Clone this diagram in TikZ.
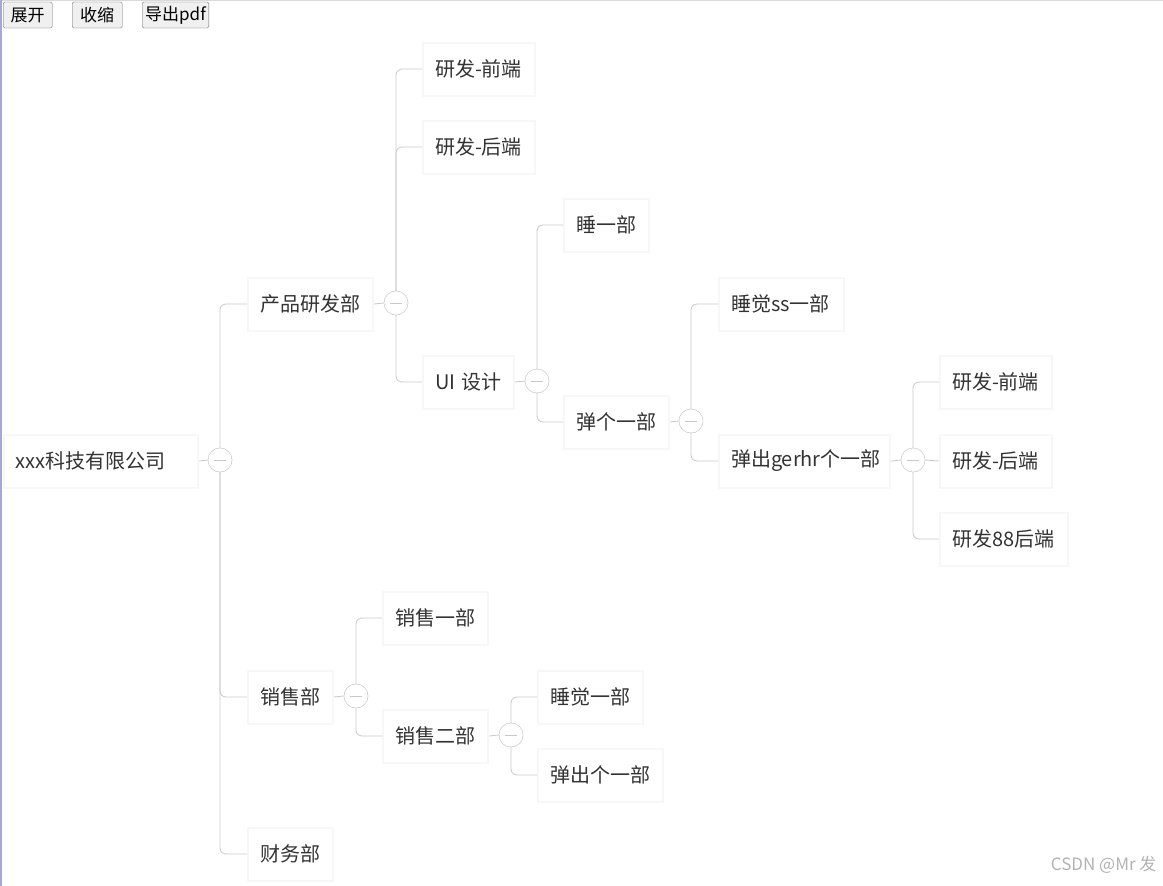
\documentclass[tikz,border=0pt]{standalone}
\usepackage{fontspec}
\setmainfont{Noto Sans CJK SC}
\definecolor{linegray}{RGB}{200,200,200}
\definecolor{txtgray}{RGB}{51,51,51}
\tikzset{
  box/.style={fill=white, draw=black!3, line width=2, text=txtgray, minimum height=53, inner xsep=12,
    font=\fontsize{20}{22}\selectfont, anchor=west, align=left, text width=#1-24},
  tog/.style={circle, draw=linegray, fill=white, minimum size=24, inner sep=0},
  link/.style={draw=linegray, line width=0.8, rounded corners=6},
  btn/.style={draw=black!60, fill=black!6, rounded corners=1.5, font=\fontsize{17}{19}\selectfont,
    inner xsep=3, inner ysep=2, minimum height=26, anchor=west},
}
\newcommand{\minus}[1]{\draw[linegray, line width=0.8] ([xshift=-6]#1.center) -- ([xshift=6]#1.center);}
\begin{document}
\begin{tikzpicture}[x=1pt, y=-1pt]
\useasboundingbox (0,0) rectangle (1163,886);
\draw[black!15] (0,0.5) -- (1163,0.5);
\fill[blue!40!gray!50] (0,0) rectangle (2,886);

% buttons
\node[btn, minimum width=49] (bopen) at (3,15) {展开};
\node[btn, minimum width=50] (bfold) at (72,15) {收缩};
\node[btn, minimum width=63] (bpdf) at (142,15) {导出pdf};

% level 0
\node[box=194] (root) at (3,461) {xxx科技有限公司};
\node[tog] (c0) at (220,460) {};
% level 1
\node[box=125] (prod) at (247,304) {产品研发部};
\node[box=85] (sale) at (247,697) {销售部};
\node[box=85] (fin) at (247,854) {财务部};
\node[tog] (c1) at (396,303) {};
\node[tog] (c2) at (356,696) {};
% level 2
\node[box=112] (fe) at (422,69) {研发-前端};
\node[box=112] (be) at (422,147) {研发-后端};
\node[box=91] (ui) at (422,382) {UI 设计};
\node[tog] (c3) at (537,381) {};
\node[box=105] (s1) at (382,618) {销售一部};
\node[box=105] (s2) at (382,736) {销售二部};
\node[tog] (c4) at (511,735) {};
% level 3
\node[box=85] (sleep) at (563,225) {睡一部};
\node[box=105] (pop) at (563,422) {弹个一部};
\node[tog] (c5) at (691,421) {};
\node[box=105] (sj) at (537,697) {睡觉一部};
\node[box=125] (tc) at (537,775) {弹出个一部};
% level 4
\node[box=125] (ss) at (718,304) {睡觉ss一部};
\node[box=171] (gerhr) at (718,461) {弹出gerhr个一部};
\node[tog] (c6) at (913,460) {};
% level 5
\node[box=112] (fe2) at (939,382) {研发-前端};
\node[box=112] (be2) at (939,461) {研发-后端};
\node[box=128] (r88) at (939,539) {研发88后端};

% links
\foreach \p/\c in {root/c0, prod/c1, sale/c2, ui/c3, s2/c4, pop/c5, gerhr/c6}
  \draw[link] (\p.east) -- (\c.west);
\foreach \c/\k in {c0/prod, c0/sale, c0/fin, c1/fe, c1/be, c1/ui, c2/s1, c2/s2,
                   c3/sleep, c3/pop, c4/sj, c4/tc, c5/ss, c5/gerhr, c6/fe2, c6/r88}
  \draw[link] (\c) |- (\k.west);
\draw[link] (c6.east) -- (be2.west);
\foreach \c in {c0,c1,c2,c3,c4,c5,c6} {
  \node[tog] at (\c) {};
  \minus{\c}
}

\node[text=black!30, font=\fontsize{17}{19}\selectfont, anchor=east] (mark) at (1160,865) {CSDN @Mr 发};
\end{tikzpicture}
\end{document}
